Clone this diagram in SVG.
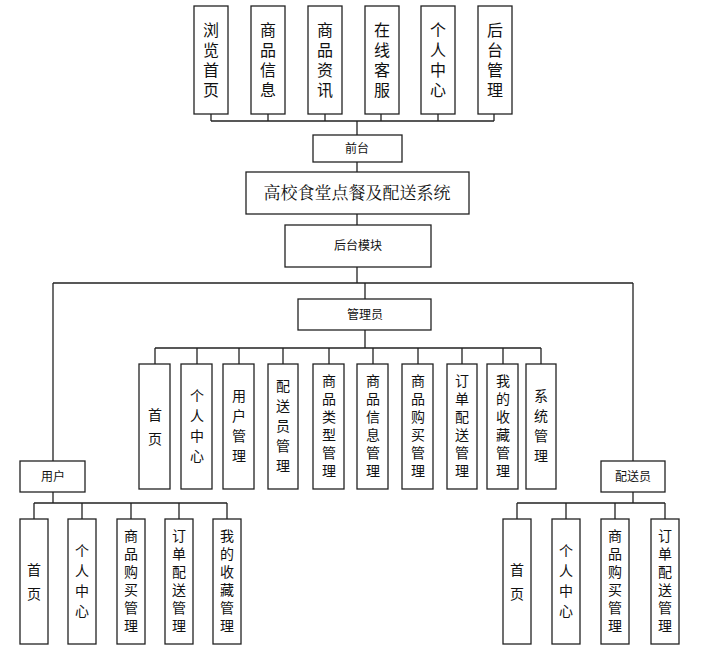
<svg xmlns="http://www.w3.org/2000/svg" width="712" height="653" viewBox="0 0 712 653">
<style>
rect{fill:#fff;stroke:#222;stroke-width:1.3}
text{font-family:"Noto Sans CJK SC",sans-serif;fill:#111;text-anchor:middle}
.v{font-size:14px;writing-mode:vertical-rl;text-orientation:upright}
.t{font-size:16px;writing-mode:vertical-rl;text-orientation:upright;letter-spacing:4px}
.s{font-size:12px}
.l2{letter-spacing:10px}.l4{letter-spacing:6px}.l5{letter-spacing:6px}.l6{letter-spacing:4px}
#c path{stroke:#222;stroke-width:1.3;fill:none}
</style>
<rect x="0" y="0" width="712" height="653" style="fill:#fff;stroke:none"/>
<g id="c">
<path d="M211 114V121M268 114V121M325 114V121M381 114V121M438 114V121M494 114V121M211 121H494M357 121V135M357 162V172M357 214V225M357 267V283M53 283H633M53 283V461M633 283V461M365 283V299"/>
<path d="M365 330V348M155 348H541M155 348V364M197 348V364M239 348V364M283 348V364M329 348V364M373 348V364M418 348V364M462 348V364M503 348V364M541 348V364"/>
<path d="M53 492V503M34 503H227M34 503V519M82 503V519M131 503V519M179 503V519M227 503V519"/>
<path d="M633 492V503M517 503H665M517 503V519M566 503V519M615 503V519M665 503V519"/>
</g>
<g id="f1"><rect x="194" y="6" width="34" height="108"/><text class="t" x="211" y="62">浏览首页</text></g>
<g id="f2"><rect x="251" y="6" width="34" height="108"/><text class="t" x="268" y="62">商品信息</text></g>
<g id="f3"><rect x="308" y="6" width="34" height="108"/><text class="t" x="325" y="62">商品资讯</text></g>
<g id="f4"><rect x="365" y="6" width="34" height="108"/><text class="t" x="382" y="62">在线客服</text></g>
<g id="f5"><rect x="421" y="6" width="34" height="108"/><text class="t" x="438" y="62">个人中心</text></g>
<g id="f6"><rect x="478" y="6" width="34" height="108"/><text class="t" x="495" y="62">后台管理</text></g>
<g id="qt"><rect x="313" y="135" width="89" height="27"/><text class="s" x="357" y="153">前台</text></g>
<g id="sys"><rect x="246" y="172" width="223" height="42"/><text x="357" y="199" style="font-family:'Noto Serif CJK SC','Noto Sans CJK SC',serif;font-size:17px">高校食堂点餐及配送系统</text></g>
<g id="ht"><rect x="285" y="225" width="146" height="42"/><text class="s" x="358" y="250">后台模块</text></g>
<g id="admin"><rect x="298" y="299" width="133" height="31"/><text class="s" x="365" y="319">管理员</text></g>
<g id="a1"><rect x="139" y="364" width="31" height="125"/><text class="v l2" x="155" y="432">首页</text></g>
<g id="a2"><rect x="181" y="364" width="31" height="125"/><text class="v l4" x="197" y="429">个人中心</text></g>
<g id="a3"><rect x="223" y="364" width="31" height="125"/><text class="v l4" x="239" y="429">用户管理</text></g>
<g id="a4"><rect x="268" y="364" width="30" height="125"/><text class="v l5" x="283" y="429">配送员管理</text></g>
<g id="a5"><rect x="313" y="364" width="31" height="125"/><text class="v l6" x="329" y="428">商品类型管理</text></g>
<g id="a6"><rect x="357" y="364" width="31" height="125"/><text class="v l6" x="373" y="428">商品信息管理</text></g>
<g id="a7"><rect x="402" y="364" width="31" height="125"/><text class="v l6" x="418" y="428">商品购买管理</text></g>
<g id="a8"><rect x="447" y="364" width="30" height="125"/><text class="v l6" x="462" y="428">订单配送管理</text></g>
<g id="a9"><rect x="487" y="364" width="31" height="125"/><text class="v l6" x="503" y="428">我的收藏管理</text></g>
<g id="a10"><rect x="526" y="364" width="30" height="125"/><text class="v l4" x="541" y="429">系统管理</text></g>
<g id="user"><rect x="20" y="461" width="65" height="31"/><text class="s" x="53" y="481">用户</text></g>
<g id="u1"><rect x="20" y="519" width="28" height="125"/><text class="v l2" x="34" y="587">首页</text></g>
<g id="u2"><rect x="68" y="519" width="28" height="125"/><text class="v l4" x="82" y="584">个人中心</text></g>
<g id="u3"><rect x="117" y="519" width="28" height="125"/><text class="v l6" x="131" y="583">商品购买管理</text></g>
<g id="u4"><rect x="165" y="519" width="28" height="125"/><text class="v l6" x="179" y="583">订单配送管理</text></g>
<g id="u5"><rect x="213" y="519" width="28" height="125"/><text class="v l6" x="227" y="583">我的收藏管理</text></g>
<g id="dl"><rect x="601" y="461" width="64" height="31"/><text class="s" x="633" y="481">配送员</text></g>
<g id="d1"><rect x="503" y="519" width="28" height="125"/><text class="v l2" x="517" y="587">首页</text></g>
<g id="d2"><rect x="552" y="519" width="28" height="125"/><text class="v l4" x="566" y="584">个人中心</text></g>
<g id="d3"><rect x="601" y="519" width="28" height="125"/><text class="v l6" x="615" y="583">商品购买管理</text></g>
<g id="d4"><rect x="651" y="519" width="28" height="125"/><text class="v l6" x="665" y="583">订单配送管理</text></g>
</svg>
